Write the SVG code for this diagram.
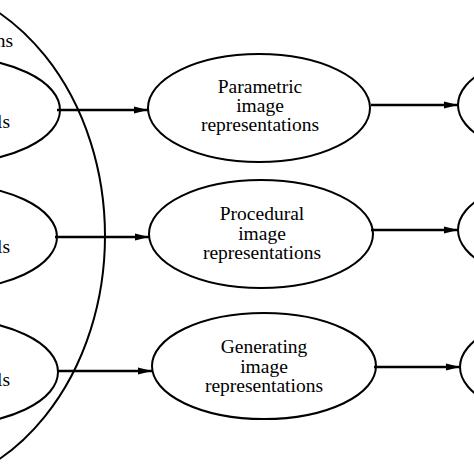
<svg xmlns="http://www.w3.org/2000/svg" width="474" height="474" viewBox="0 0 474 474">
<style>
.n{fill:#fff;stroke:#000;stroke-width:2}
.t{font-family:"Liberation Serif","Times New Roman",serif;font-size:19.5px;fill:#000;text-anchor:middle}
.e{text-anchor:end}
.c{stroke:#000;stroke-width:2.5;fill:none;marker-end:url(#ah)}
</style>
<defs>
<marker id="ah" markerWidth="14" markerHeight="8" refX="14" refY="4" orient="auto" markerUnits="userSpaceOnUse">
<path d="M0,0.5 L14,4 L0,7.5 Z" fill="#000"/>
</marker>
</defs>
<rect width="474" height="474" fill="#fff"/>
<g id="outer">
<ellipse class="n" cx="-100" cy="236" rx="205" ry="255" fill="none"/>
<text class="t e" x="13" y="47">ns</text>
</g>
<g id="left1">
<ellipse class="n" cx="-52" cy="110" rx="112" ry="53"/>
<text class="t e" x="10" y="128">ls</text>
</g>
<g id="left2">
<ellipse class="n" cx="-55" cy="237" rx="112" ry="53"/>
<text class="t e" x="10" y="253">ls</text>
</g>
<g id="left3">
<ellipse class="n" cx="-54" cy="372" rx="112" ry="53"/>
<text class="t e" x="10" y="386">ls</text>
</g>
<g id="param">
<ellipse class="n" cx="259" cy="108" rx="111" ry="54"/>
<text class="t" x="260" y="93">Parametric</text>
<text class="t" x="260" y="112">image</text>
<text class="t" x="260" y="131">representations</text>
</g>
<g id="proc">
<ellipse class="n" cx="261" cy="234" rx="112" ry="54"/>
<text class="t" x="262" y="220">Procedural</text>
<text class="t" x="262" y="240">image</text>
<text class="t" x="262" y="259">representations</text>
</g>
<g id="gen">
<ellipse class="n" cx="264" cy="366" rx="112" ry="53"/>
<text class="t" x="264" y="353">Generating</text>
<text class="t" x="264" y="373">image</text>
<text class="t" x="264" y="392">representations</text>
</g>
<g id="right1"><ellipse class="n" cx="570" cy="105" rx="112" ry="53"/></g>
<g id="right2"><ellipse class="n" cx="570" cy="230" rx="112" ry="53"/></g>
<g id="right3"><ellipse class="n" cx="572" cy="367" rx="112" ry="53"/></g>
<g id="connectors">
<line class="c" x1="57" y1="110" x2="148" y2="110"/>
<line class="c" x1="55" y1="237" x2="149" y2="237"/>
<line class="c" x1="57" y1="371" x2="152" y2="371"/>
<line class="c" x1="371" y1="105" x2="458" y2="105"/>
<line class="c" x1="371" y1="230" x2="458" y2="230"/>
<line class="c" x1="374" y1="367" x2="460" y2="367"/>
</g>
</svg>
